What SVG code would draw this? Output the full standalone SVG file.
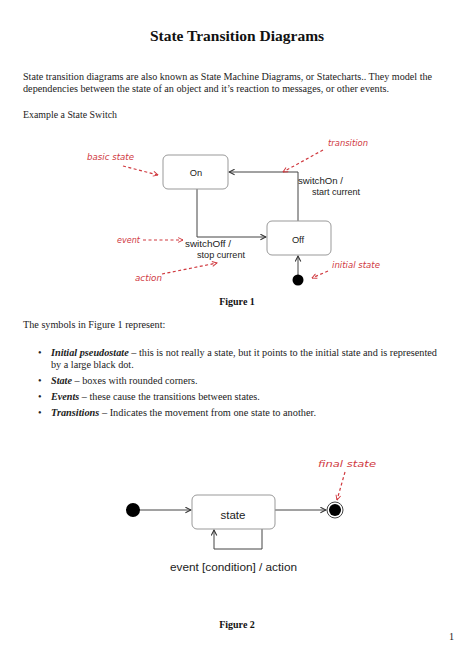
<svg xmlns="http://www.w3.org/2000/svg" width="474" height="671" viewBox="0 0 474 671">
<defs>
<marker id="oa" viewBox="0 0 10 10" refX="9" refY="5" markerWidth="7" markerHeight="7" orient="auto" markerUnits="userSpaceOnUse">
<path d="M1,1 L9,5 L1,9" fill="none" stroke="#333" stroke-width="1.5"/>
</marker>
<marker id="ra" viewBox="0 0 10 10" refX="9" refY="5" markerWidth="6" markerHeight="6" orient="auto" markerUnits="userSpaceOnUse">
<path d="M1,1 L9,5 L1,9" fill="none" stroke="#d0393f" stroke-width="1.6"/>
</marker>
</defs>
<style>
.body{font-family:"Liberation Serif",serif;font-size:10.2px;fill:#222}
.cap{font-family:"Liberation Serif",serif;font-size:10px;font-weight:bold;fill:#111;text-anchor:middle}
.lbl{font-family:"Liberation Sans",Arial,sans-serif;font-size:9.3px;fill:#222}
.red{font-family:"DejaVu Sans",sans-serif;font-style:italic;font-size:8.5px;fill:#d0393f}
.state{fill:#fff;stroke:#999;stroke-width:1}
.edge{fill:none;stroke:#444;stroke-width:1}
.dash{fill:none;stroke:#d0393f;stroke-width:1.2;stroke-dasharray:3,2.5}
</style>
<rect width="474" height="671" fill="#fff"/>
<text x="237" y="41" text-anchor="middle" font-family="Liberation Serif,serif" font-size="15.5" font-weight="bold" fill="#111">State Transition Diagrams</text>
<text class="body" x="23" y="80" textLength="409" lengthAdjust="spacingAndGlyphs">State transition diagrams are also known as State Machine Diagrams, or Statecharts.. They model the</text>
<text class="body" x="23" y="92" textLength="366" lengthAdjust="spacingAndGlyphs">dependencies between the state of an object and it’s reaction to messages, or other events.</text>
<text class="body" x="23" y="118" textLength="94" lengthAdjust="spacingAndGlyphs">Example a State Switch</text>

<g id="connectors">
<polyline class="edge" points="197,189 197,237 266,237" marker-end="url(#oa)"/>
<polyline class="edge" points="298,221 298,172 229,172" marker-end="url(#oa)"/>
<line class="edge" x1="298" y1="275" x2="298" y2="256" marker-end="url(#oa)"/>
<line class="edge" x1="139" y1="510" x2="191" y2="510" marker-end="url(#oa)"/>
<line class="edge" x1="275" y1="510" x2="326" y2="510" marker-end="url(#oa)"/>
<polyline class="edge" points="262,529 262,549 214,549 214,530" marker-end="url(#oa)"/>
<line class="dash" x1="123" y1="166" x2="158" y2="175" marker-end="url(#ra)"/>
<line class="dash" x1="323" y1="150" x2="283" y2="172" marker-end="url(#ra)"/>
<line class="dash" x1="143" y1="240" x2="183" y2="240" marker-end="url(#ra)"/>
<line class="dash" x1="162" y1="274" x2="217" y2="263" marker-end="url(#ra)"/>
<line class="dash" x1="328" y1="271" x2="312" y2="278" marker-end="url(#ra)"/>
<line class="dash" x1="345" y1="472" x2="337" y2="500" marker-end="url(#ra)"/>
</g>

<g id="on">
<rect class="state" x="163" y="155" width="65" height="34" rx="5"/>
<text class="lbl" x="196" y="176" text-anchor="middle">On</text>
</g>
<g id="off">
<rect class="state" x="267" y="221" width="64" height="34" rx="5"/>
<text class="lbl" x="298" y="243" text-anchor="middle">Off</text>
</g>
<g id="init1"><circle cx="298" cy="280" r="5.5" fill="#000"/></g>
<g id="labels1">
<text class="lbl" x="298" y="184" textLength="45" lengthAdjust="spacingAndGlyphs">switchOn /</text>
<text class="lbl" x="312" y="195" textLength="48" lengthAdjust="spacingAndGlyphs">start current</text>
<text class="lbl" x="185" y="247" textLength="46" lengthAdjust="spacingAndGlyphs">switchOff /</text>
<text class="lbl" x="197" y="258" textLength="48" lengthAdjust="spacingAndGlyphs">stop current</text>
<text class="red" x="87" y="160" textLength="47" lengthAdjust="spacingAndGlyphs">basic state</text>
<text class="red" x="328" y="146" textLength="40" lengthAdjust="spacingAndGlyphs">transition</text>
<text class="red" x="117" y="243" textLength="23" lengthAdjust="spacingAndGlyphs">event</text>
<text class="red" x="135" y="281" textLength="27" lengthAdjust="spacingAndGlyphs">action</text>
<text class="red" x="332" y="268" textLength="48" lengthAdjust="spacingAndGlyphs">initial state</text>
</g>
<text class="cap" x="237" y="305">Figure 1</text>

<text class="body" x="23" y="328">The symbols in Figure 1 represent:</text>
<g class="body">
<text x="38" y="356">•</text>
<text x="51" y="356" textLength="386" lengthAdjust="spacingAndGlyphs"><tspan font-weight="bold" font-style="italic">Initial pseudostate</tspan> – this is not really a state, but it points to the initial state and is represented</text>
<text x="51" y="368">by a large black dot.</text>
<text x="38" y="384">•</text>
<text x="51" y="384"><tspan font-weight="bold" font-style="italic">State</tspan> – boxes with rounded corners.</text>
<text x="38" y="400">•</text>
<text x="51" y="400"><tspan font-weight="bold" font-style="italic">Events</tspan> – these cause the transitions between states.</text>
<text x="38" y="416">•</text>
<text x="51" y="416" textLength="265" lengthAdjust="spacingAndGlyphs"><tspan font-weight="bold" font-style="italic">Transitions</tspan> – Indicates the movement from one state to another.</text>
</g>

<g id="init2"><circle cx="133" cy="510" r="7" fill="#000"/></g>
<g id="state">
<rect class="state" x="192" y="495" width="83" height="34" rx="5"/>
<text x="233" y="519" text-anchor="middle" font-family="Liberation Sans,Arial,sans-serif" font-size="11.5" fill="#222">state</text>
</g>
<g id="final">
<circle cx="335" cy="510" r="8" fill="#fff" stroke="#444" stroke-width="1"/>
<circle cx="335" cy="510" r="6" fill="#000"/>
</g>
<text x="170" y="571" font-family="Liberation Sans,Arial,sans-serif" font-size="11.5" fill="#222" textLength="127" lengthAdjust="spacingAndGlyphs">event [condition] / action</text>
<text class="red" x="318" y="467" font-size="11" textLength="58" lengthAdjust="spacingAndGlyphs">final state</text>
<text class="cap" x="237" y="628">Figure 2</text>
<text class="body" x="449" y="640" font-size="9">1</text>
</svg>
